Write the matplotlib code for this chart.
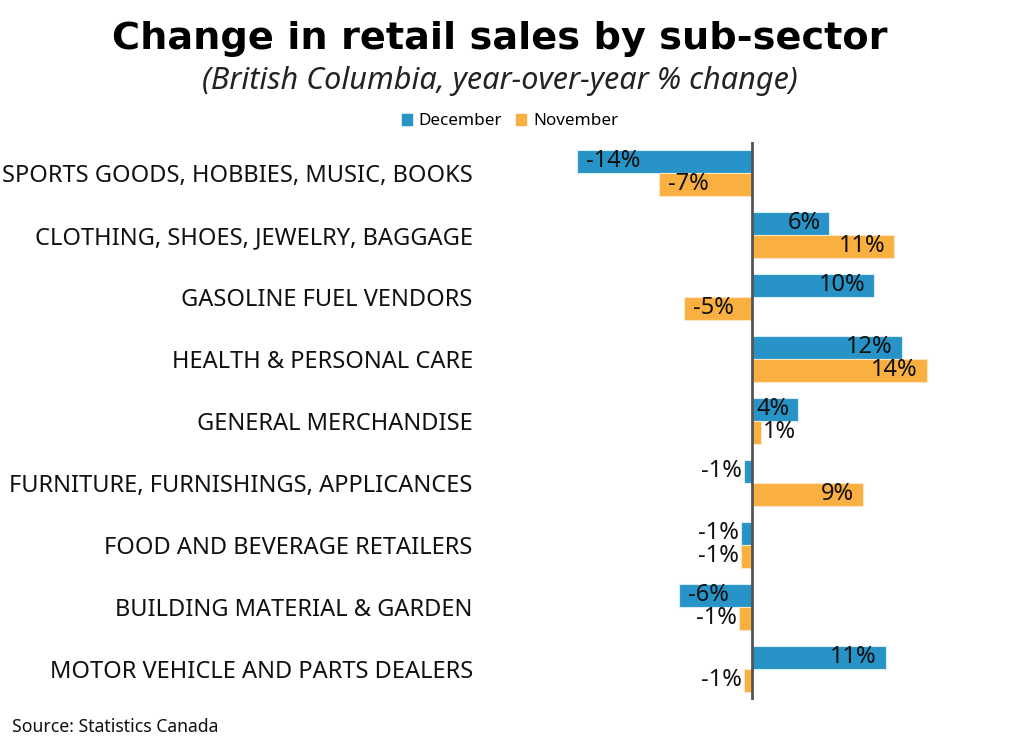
import matplotlib.pyplot as plt
from matplotlib.patches import Patch
from matplotlib.transforms import offset_copy

# data ------------------------------------------------------------------------
categories = ['SPORTS GOODS, HOBBIES, MUSIC, BOOKS',
              'CLOTHING, SHOES, JEWELRY, BAGGAGE',
              'GASOLINE FUEL VENDORS',
              'HEALTH & PERSONAL CARE',
              'GENERAL MERCHANDISE',
              'FURNITURE, FURNISHINGS, APPLICANCES',
              'FOOD AND BEVERAGE RETAILERS',
              'BUILDING MATERIAL & GARDEN',
              'MOTOR VEHICLE AND PARTS DEALERS']
december = [-14.0, 6.2, 9.8, 12.0, 3.7, -0.6, -0.9, -5.8, 10.7]
november = [-7.4, 11.4, -5.4, 14.0, 0.7, 8.9, -0.9, -1.0, -0.6]
series_names = ['December', 'November']

# style -----------------------------------------------------------------------
c_dec = '#2893c6'
c_nov = '#f9b040'
plt.rcParams['font.family'] = ['Noto Sans', 'DejaVu Sans']

fig = plt.figure(figsize=(10.24, 7.43), dpi=100)
ax = fig.add_axes([0.539, 0.058, 0.4395, 0.751])

h = 0.37
ypos = list(range(len(categories)))
y_dec = [y - h / 2 for y in ypos]
y_nov = [y + h / 2 for y in ypos]
ax.barh(y_dec, december, height=h, color=c_dec, edgecolor='#d6ecf6', linewidth=0.8)
ax.barh(y_nov, november, height=h, color=c_nov, edgecolor='#fde6c2', linewidth=0.8)

ax.set_xlim(-16, 20)
ax.set_ylim(len(categories) - 0.5, -0.5)
ax.axvline(0, color='#555555', lw=2, zorder=5)

for s in ax.spines.values():
    s.set_visible(False)
ax.set_xticks([])
ax.set_yticks(ypos)
ax.set_yticklabels(categories, fontsize=17, color='#111111')
ax.tick_params(axis='y', length=0, pad=57)


def label_bars(yvals, vals):
    for y, v in zip(yvals, vals):
        txt = '{:.0f}%'.format(v)
        if abs(v) < 2:
            # small bar: put label outside
            ha = 'left' if v >= 0 else 'right'
            dx = 1.5 if v >= 0 else -1.5
        else:
            ha = 'right' if v >= 0 else 'left'
            dx = -6.5 if v >= 0 else 6.5
        tr = offset_copy(ax.transData, fig=fig, x=dx, y=0, units='points')
        ax.text(v, y, txt, ha=ha, va='center', fontsize=17,
                color='#111111', transform=tr, zorder=6)


label_bars(y_dec, december)
label_bars(y_nov, november)

# titles ----------------------------------------------------------------------
fig.text(0.488, 0.948, 'Change in retail sales by sub-sector', ha='center',
         va='center', fontsize=27.5, fontweight='bold', family='DejaVu Sans')
fig.text(0.488, 0.891, '(British Columbia, year-over-year % change)',
         ha='center', va='center', fontsize=22, style='italic',
         fontweight='light', color='#222222')

handles = [Patch(color=c_dec), Patch(color=c_nov)]
fig.legend(handles, series_names, loc='center', bbox_to_anchor=(0.498, 0.837),
           ncol=2, frameon=False, fontsize=12.3, handlelength=0.6, handleheight=0.6,
           handletextpad=0.4, columnspacing=0.8)

fig.text(0.012, 0.015, 'Source: Statistics Canada', fontsize=12.7, color='#111111')

plt.savefig('out.png', dpi=100)
